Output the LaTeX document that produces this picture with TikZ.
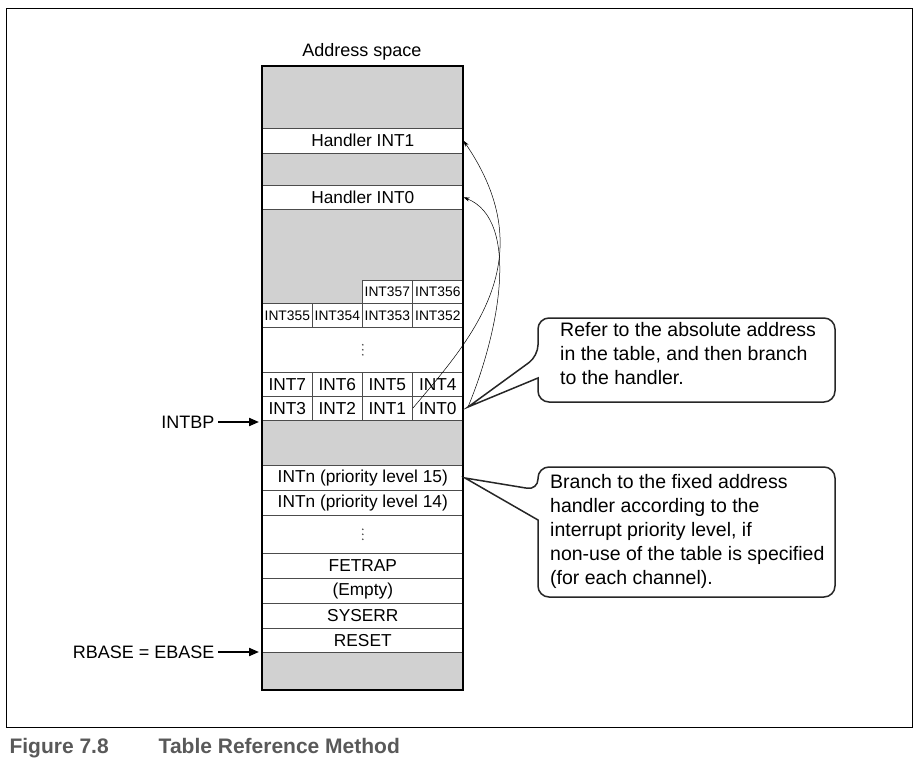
\documentclass[tikz,border=0pt]{standalone}
\usepackage{fontspec}
\setmainfont{Liberation Sans}
\usetikzlibrary{arrows.meta}
\begin{document}
\begin{tikzpicture}[x=1pt,y=-1pt,
  cell/.style={draw=black!70,line width=0.6pt,fill=white,inner sep=0pt,anchor=north west},
  gray/.style={fill=black!18},
  big/.style={font=\fontsize{17.3}{19}\selectfont},
  lab/.style={font=\fontsize{18}{20}\selectfont},
  small/.style={font=\fontsize{13.8}{16}\selectfont},
  ctext/.style={font=\fontsize{19.5}{24}\selectfont,anchor=north west,align=left,inner sep=0pt},
  call/.style={draw=black!85,line width=1.5pt,fill=white,rounded corners=11pt},
  thin/.style={line width=0.5pt,-{Stealth[length=6pt,width=4pt]}},
  ptr/.style={line width=2pt,-{Triangle[length=10pt,width=8pt]}},
  dots/.style={fill=black!70}]
\useasboundingbox (0,0) rectangle (919,765);
\draw[line width=0.8pt] (6,8) rectangle (912,727);
\node[anchor=west,text=black!65,font=\bfseries\fontsize{21}{23}\selectfont] (cap) at (6,748) {Figure 7.8\hspace{50pt}Table Reference Method};
\node[lab] (as) at (362,52) {Address space};
\fill[gray] (262,66) rectangle (463,690);
\def\row#1#2#3#4{\node[cell,big,minimum width=201pt,minimum height=#3pt] (#1) at (262,#2) {#4};}
\row{h1}{128}{25}{Handler INT1}
\row{h0}{185}{24}{Handler INT0}
\node[cell,small,minimum width=50pt,minimum height=23pt] (i357) at (362,280) {INT357};
\node[cell,small,minimum width=51pt,minimum height=23pt] (i356) at (412,280) {INT356};
\node[cell,small,minimum width=50pt,minimum height=24pt] (i355) at (262,303) {INT355};
\node[cell,small,minimum width=50pt,minimum height=24pt] (i354) at (312,303) {INT354};
\node[cell,small,minimum width=50pt,minimum height=24pt] (i353) at (362,303) {INT353};
\node[cell,small,minimum width=51pt,minimum height=24pt] (i352) at (412,303) {INT352};
\row{d1}{327}{45}{}
\foreach \y in {-5,0,5} \fill[dots] ([yshift=\y]d1.center) circle (0.9pt);
\node[cell,big,minimum width=50pt,minimum height=24pt] (i7) at (262,372) {INT7};
\node[cell,big,minimum width=50pt,minimum height=24pt] (i6) at (312,372) {INT6};
\node[cell,big,minimum width=50pt,minimum height=24pt] (i5) at (362,372) {INT5};
\node[cell,big,minimum width=51pt,minimum height=24pt] (i4) at (412,372) {INT4};
\node[cell,big,minimum width=50pt,minimum height=24pt] (i3) at (262,396) {INT3};
\node[cell,big,minimum width=50pt,minimum height=24pt] (i2) at (312,396) {INT2};
\node[cell,big,minimum width=50pt,minimum height=24pt] (i1) at (362,396) {INT1};
\node[cell,big,minimum width=51pt,minimum height=24pt] (i0) at (412,396) {INT0};
\row{p15}{465}{25}{INTn (priority level 15)}
\row{p14}{490}{25}{INTn (priority level 14)}
\row{d2}{515}{38}{}
\foreach \y in {-5,0,5} \fill[dots] ([yshift=\y]d2.center) circle (0.9pt);
\row{fe}{553}{25}{FETRAP}
\row{em}{578}{25}{(Empty)}
\row{sy}{603}{25}{SYSERR}
\row{rs}{628}{24}{RESET}
\draw[line width=2pt] (262,66) rectangle (463,690);
\coordinate (o0) at (468,407);
\coordinate (o1) at (413,408);
\draw[thin] (o1) .. controls (470,340) and (545,260) .. (h1.east);
\draw[thin] (o0) .. controls (500,330) and (520,220) .. (h0.east);
\node[lab,anchor=east] (ib) at (218,422) {INTBP};
\coordinate (ibt) at (259,422);
\draw[ptr] (ib.east) -- (ibt);
\node[lab,anchor=east] (rb) at (218,652) {RBASE = EBASE};
\coordinate (rbt) at (259,652);
\draw[ptr] (rb.east) -- (rbt);
\draw[call] (o0) [sharp corners] -- (538,378) [rounded corners=11pt] -- (538,402) -- (835,402) -- (835,318) -- (538,318) -- (538,356) [sharp corners] -- cycle;
\node[ctext] (t1) at (560,322) {Refer to the absolute address\\in the table, and then branch\\to the handler.};
\coordinate (o2) at (465,478);
\draw[call] (o2) [sharp corners] -- (538,520) [rounded corners=11pt] -- (538,597) -- (835,597) -- (835,467) -- (538,467) -- (538,490) [sharp corners] -- cycle;
\node[ctext] (t2) at (550,474) {Branch to the fixed address\\handler according to the\\interrupt priority level, if\\non-use of the table is specified\\(for each channel).};
\end{tikzpicture}
\end{document}
